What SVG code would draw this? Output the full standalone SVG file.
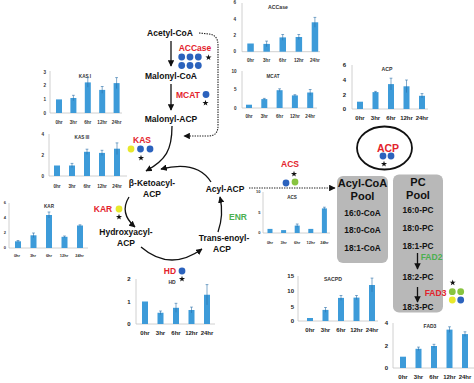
<svg xmlns="http://www.w3.org/2000/svg" width="474" height="383" viewBox="0 0 474 383">
<defs>
<style>
text{font-family:"Liberation Sans",Arial,sans-serif;font-weight:bold;text-anchor:middle}
.m{font-size:8.5px;fill:#111}
.red{font-size:8.5px;fill:#e3232c}
.grn{font-size:8.5px;fill:#4caf50}
.bx{font-size:11px;fill:#111}
.it{font-size:8.3px;fill:#111}
.box{fill:#b8b8b8}
.bar{fill:#3d9bd9}
.ax{stroke:#c4c4c4;stroke-width:0.8;fill:none}
.err{stroke:#2a6fa8;stroke-width:0.6;fill:none}
.s{font-size:4.6px;fill:#333}
.l{font-size:6px;fill:#222}
.ya{text-anchor:end}
.arr{stroke:#111;stroke-width:1.3;fill:none}
.dot{stroke:#222;stroke-width:1.1;fill:none;stroke-dasharray:1.4 1.1}
.cb{fill:#2b62bd}
.cy{fill:#e8e82c}
.cg{fill:#88c43f}
</style>
<marker id="ah" viewBox="0 0 10 10" refX="9" refY="5" markerWidth="6.5" markerHeight="6.5" markerUnits="userSpaceOnUse" orient="auto"><path d="M0,0 L10,5 L0,10 z" fill="#111"/></marker>
<path id="star" d="M0,-3.2 L0.73,-1.01 L3.04,-0.99 L1.19,0.39 L1.88,2.59 L0,1.25 L-1.88,2.59 L-1.19,0.39 L-3.04,-0.99 L-0.73,-1.01 Z" fill="#111"/>
</defs>
<rect width="474" height="383" fill="#fff"/>

<!-- pools -->
<g id="acyl-coa-pool">
<rect class="box" x="337" y="176" width="51" height="87" rx="6"/>
<text class="bx" x="362.5" y="187">Acyl-CoA</text>
<text class="bx" x="362.5" y="200">Pool</text>
<text class="it" x="362.5" y="216">16:0-CoA</text>
<text class="it" x="362.5" y="233">18:0-CoA</text>
<text class="it" x="362.5" y="251">18:1-CoA</text>
</g>
<g id="pc-pool">
<rect class="box" x="393" y="174.5" width="50" height="138" rx="6"/>
<text class="bx" x="418" y="186">PC</text>
<text class="bx" x="418" y="199">Pool</text>
<text class="it" x="418" y="213">16:0-PC</text>
<text class="it" x="418" y="231">18:0-PC</text>
<text class="it" x="418" y="249">18:1-PC</text>
<text class="it" x="418" y="280.3">18:2-PC</text>
<text class="it" x="418" y="309.7">18:3-PC</text>
</g>

<!-- connectors -->
<g id="connectors">
<path class="arr" d="M171,41 L171,66" marker-end="url(#ah)"/>
<path class="arr" d="M171,84 L171,110" marker-end="url(#ah)"/>
<path class="dot" d="M199,33 L209,34 Q218,35 218,45 L218,126 Q218,136 208,136 L184,136" marker-end="url(#ah)"/>
<path class="arr" d="M172,126 C172,150 166,160 146,171" marker-end="url(#ah)"/>
<path class="arr" d="M211,182 Q197,160 161,169" marker-end="url(#ah)"/>
<path class="arr" d="M129,197 Q119,213 135,227" marker-end="url(#ah)"/>
<path class="arr" d="M141,247 Q170,272 202,249" marker-end="url(#ah)"/>
<path class="arr" d="M218,232 Q224,215 220,197" marker-end="url(#ah)"/>
<path class="dot" d="M249,188 L335,188" marker-end="url(#ah)"/>
<path class="arr" d="M417.5,253 L417.5,269" marker-end="url(#ah)"/>
<path class="arr" d="M417.5,287 L417.5,302" marker-end="url(#ah)"/>
</g>

<!-- pathway nodes -->
<g id="acetyl-coa"><text class="m" x="170" y="36">Acetyl-CoA</text></g>
<g id="malonyl-coa"><text class="m" x="171" y="79">Malonyl-CoA</text></g>
<g id="malonyl-acp"><text class="m" x="171" y="122">Malonyl-ACP</text></g>
<g id="ketoacyl-acp"><text class="m" x="152" y="186">β-Ketoacyl-</text><text class="m" x="152" y="197">ACP</text></g>
<g id="hydroxyacyl-acp"><text class="m" x="126" y="235">Hydroxyacyl-</text><text class="m" x="126" y="246">ACP</text></g>
<g id="trans-enoyl-acp"><text class="m" x="224" y="241">Trans-enoyl-</text><text class="m" x="222" y="252">ACP</text></g>
<g id="acyl-acp"><text class="m" x="225" y="192">Acyl-ACP</text></g>

<!-- enzymes -->
<g id="accase">
<text class="red" x="195" y="51">ACCase</text>
<circle class="cb" cx="181.7" cy="57" r="3.4"/><circle class="cb" cx="190" cy="57" r="3.4"/><circle class="cb" cx="198.3" cy="57" r="3.4"/>
<circle class="cb" cx="181.7" cy="65.5" r="3.4"/><circle class="cb" cx="190" cy="65.5" r="3.4"/><circle class="cb" cx="198.3" cy="65.5" r="3.4"/>
<use href="#star" x="208.5" y="57.5"/>
</g>
<g id="mcat">
<text class="red" x="188" y="97.5">MCAT</text>
<circle class="cb" cx="206" cy="94.5" r="3.4"/>
<use href="#star" x="205.5" y="103"/>
</g>
<g id="kas">
<text class="red" x="142" y="143">KAS</text>
<circle class="cy" cx="131" cy="149" r="3.4"/><circle class="cb" cx="140.5" cy="149" r="3.4"/><circle class="cb" cx="150" cy="149" r="3.4"/>
<use href="#star" x="141" y="158"/>
</g>
<g id="kar">
<text class="red" x="103" y="212">KAR</text>
<circle class="cy" cx="119" cy="209" r="3.4"/>
<use href="#star" x="119" y="217"/>
</g>
<g id="hd">
<text class="red" x="170" y="274">HD</text>
<circle class="cb" cx="182" cy="271" r="3.4"/>
<use href="#star" x="182" y="279"/>
</g>
<g id="enr"><text class="grn" x="238" y="220">ENR</text></g>
<g id="acs">
<text class="red" x="290" y="167">ACS</text>
<use href="#star" x="294" y="174"/>
<circle class="cb" cx="286" cy="183" r="3.4"/><circle class="cg" cx="295" cy="182" r="3.4"/>
</g>
<g id="acp">
<ellipse cx="384.5" cy="148" rx="27.5" ry="21.5" fill="none" stroke="#111" stroke-width="1.8"/>
<text class="red" x="388" y="151.5" style="font-size:10.5px">ACP</text>
<circle class="cb" cx="383" cy="156" r="3.4"/><circle class="cb" cx="391" cy="156" r="3.4"/>
<use href="#star" x="384" y="164"/>
</g>
<g id="fad2"><text class="grn" x="431.5" y="260.3">FAD2</text></g>
<g id="fad3">
<text class="red" x="435.5" y="295.7">FAD3</text>
<use href="#star" x="452.7" y="282.7"/>
<circle class="cg" cx="452.3" cy="291.7" r="3.4"/><circle class="cg" cx="460.7" cy="291.7" r="3.4"/>
<circle class="cy" cx="452.3" cy="300" r="3.4"/><circle class="cb" cx="460.7" cy="300" r="3.4"/>
</g>

<!-- charts -->
<g id="chart-kas1">
<path class="ax" d="M50,71 L50,113 L122,113"/>
<text class="s ya" x="46" y="73.6">3</text><text class="s ya" x="46" y="87.2">2</text><text class="s ya" x="46" y="100.8">1</text><text class="s ya" x="46" y="114.6">0</text>
<text class="s" x="85" y="77.5">KAS I</text>
<rect class="bar" x="56" y="99.4" width="6" height="13.6"/>
<rect class="bar" x="70.4" y="98" width="6" height="15"/>
<rect class="bar" x="84.8" y="82.4" width="6" height="30.6"/>
<rect class="bar" x="99.2" y="89.9" width="6" height="23.1"/>
<rect class="bar" x="113.6" y="83.1" width="6" height="29.9"/>
<path class="err" d="M73.4,95.3V100.7M72,95.3h2.8M87.8,77.6V87.2M86.4,77.6h2.8M102.2,86.5V93.3M100.8,86.5h2.8M116.6,77.6V88.6M115.2,77.6h2.8"/>
<text class="s" x="59" y="124">0hr</text><text class="s" x="73.4" y="124">3hr</text><text class="s" x="87.8" y="124">6hr</text><text class="s" x="102.2" y="124">12hr</text><text class="s" x="116.6" y="124">24hr</text>
</g>

<g id="chart-accase">
<path class="ax" d="M242,3 L242,51.7 L320,51.7"/>
<text class="s ya" x="236" y="4.3">6</text><text class="s ya" x="236" y="20.6">4</text><text class="s ya" x="236" y="37">2</text><text class="s ya" x="236" y="53.3">0</text>
<text class="s" x="278" y="9" style="font-size:5.2px">ACCase</text>
<rect class="bar" x="247.3" y="43.5" width="6.5" height="8.2"/>
<rect class="bar" x="263.4" y="43.9" width="6.5" height="7.8"/>
<rect class="bar" x="279.5" y="37.4" width="6.5" height="14.3"/>
<rect class="bar" x="295.6" y="37" width="6.5" height="14.7"/>
<rect class="bar" x="311.7" y="22.3" width="6.5" height="29.4"/>
<path class="err" d="M266.6,41.1V46.7M265.2,41.1h2.8M282.7,34.5V40.3M281.3,34.5h2.8M298.8,34.5V39.5M297.4,34.5h2.8M314.9,17.4V27.2M313.5,17.4h2.8"/>
<text class="s" x="250.5" y="61.5">0hr</text><text class="s" x="266.6" y="61.5">3hr</text><text class="s" x="282.7" y="61.5">6hr</text><text class="s" x="298.8" y="61.5">12hr</text><text class="s" x="314.9" y="61.5">24hr</text>
</g>

<g id="chart-mcat">
<path class="ax" d="M242,71 L242,108 L317,108"/>
<text class="s ya" x="236.5" y="72.6">10</text><text class="s ya" x="236.5" y="91.1">5</text><text class="s ya" x="236.5" y="109.6">0</text>
<text class="s" x="273" y="77.5">MCAT</text>
<rect class="bar" x="246" y="104.7" width="6" height="3.3"/>
<rect class="bar" x="261.3" y="99.1" width="6" height="8.9"/>
<rect class="bar" x="276.6" y="90.2" width="6" height="17.8"/>
<rect class="bar" x="291.9" y="95.4" width="6" height="12.6"/>
<rect class="bar" x="307.2" y="92.5" width="6" height="15.5"/>
<path class="err" d="M264.3,98.4V99.8M262.9,98.4h2.8M279.6,88.8V91.6M278.2,88.8h2.8M294.9,94.7V96.1M293.5,94.7h2.8M310.2,89.5V95.5M308.8,89.5h2.8"/>
<text class="s" x="249" y="118">0hr</text><text class="s" x="264.3" y="118">3hr</text><text class="s" x="279.6" y="118">6hr</text><text class="s" x="294.9" y="118">12hr</text><text class="s" x="310.2" y="118">24hr</text>
</g>

<g id="chart-acp">
<path class="ax" d="M352,65 L352,109 L428,109"/>
<text class="l ya" x="346" y="67.1">6</text><text class="l ya" x="346" y="81.8">4</text><text class="l ya" x="346" y="96.5">2</text><text class="l ya" x="346" y="111.1">0</text>
<text class="s" x="387" y="70.5" style="font-size:5.2px">ACP</text>
<rect class="bar" x="357" y="101.7" width="6" height="7.3"/>
<rect class="bar" x="372.5" y="92.1" width="6" height="16.9"/>
<rect class="bar" x="388" y="84.1" width="6" height="24.9"/>
<rect class="bar" x="403.5" y="86.3" width="6" height="22.7"/>
<rect class="bar" x="419" y="95.8" width="6" height="13.2"/>
<path class="err" d="M375.5,91.4V92.8M374.1,91.4h2.8M391,78.2V90M389.6,78.2h2.8M406.5,80V92.6M405.1,80h2.8M422,93.6V98M420.6,93.6h2.8"/>
<text class="l" x="360" y="120.3">0hr</text><text class="l" x="375.5" y="120.3">3hr</text><text class="l" x="391" y="120.3">6hr</text><text class="l" x="406.5" y="120.3">12hr</text><text class="l" x="422" y="120.3">24hr</text>
</g>

<g id="chart-kas3">
<path class="ax" d="M49,134 L49,176 L127,176"/>
<text class="s ya" x="44" y="135.6">4</text><text class="s ya" x="44" y="156.6">2</text><text class="s ya" x="44" y="177.6">0</text>
<text class="s" x="82" y="138.5">KAS III</text>
<rect class="bar" x="54" y="165.5" width="6" height="10.5"/>
<rect class="bar" x="69" y="165.5" width="6" height="10.5"/>
<rect class="bar" x="84" y="151.8" width="6" height="24.2"/>
<rect class="bar" x="99" y="152.9" width="6" height="23.1"/>
<rect class="bar" x="114" y="148.7" width="6" height="27.3"/>
<path class="err" d="M72,163.4V167.6M70.6,163.4h2.8M87,149.2V154.4M85.6,149.2h2.8M102,150.3V155.5M100.6,150.3h2.8M117,142.9V154.5M115.6,142.9h2.8"/>
<text class="s" x="57" y="187.5">0hr</text><text class="s" x="72" y="187.5">3hr</text><text class="s" x="87" y="187.5">6hr</text><text class="s" x="102" y="187.5">12hr</text><text class="s" x="117" y="187.5">24hr</text>
</g>

<g id="chart-kar">
<path class="ax" d="M9,203 L9,248 L88,248"/>
<text class="s ya" x="6" y="204.4" style="font-size:4px">6</text><text class="s ya" x="6" y="219.4" style="font-size:4px">4</text><text class="s ya" x="6" y="234.4" style="font-size:4px">2</text><text class="s ya" x="6" y="249.4" style="font-size:4px">0</text>
<text class="s" x="49" y="207.5">KAR</text>
<rect class="bar" x="15" y="241.3" width="6" height="6.7"/>
<rect class="bar" x="30.5" y="235.3" width="6" height="12.7"/>
<rect class="bar" x="46" y="215" width="6" height="33"/>
<rect class="bar" x="61.5" y="236.8" width="6" height="11.2"/>
<rect class="bar" x="77" y="225.5" width="6" height="22.5"/>
<path class="err" d="M18,240.5V242.1M16.6,240.5h2.8M33.5,233V237.6M32.1,233h2.8M49,212V218M47.6,212h2.8M64.5,236V237.6M63.1,236h2.8M80,224.8V226.2M78.6,224.8h2.8"/>
<text class="s" x="17" y="256.5" style="font-size:4px">0hr</text><text class="s" x="33" y="256.5" style="font-size:4px">3hr</text><text class="s" x="49" y="256.5" style="font-size:4px">6hr</text><text class="s" x="64" y="256.5" style="font-size:4px">12hr</text><text class="s" x="79.5" y="256.5" style="font-size:4px">24hr</text>
</g>

<g id="chart-acs">
<path class="ax" d="M263,192 L263,233 L330,233"/>
<text class="s ya" x="260.5" y="193.4" style="font-size:4px">10</text><text class="s ya" x="260.5" y="214.4" style="font-size:4px">5</text><text class="s ya" x="260.5" y="234.4" style="font-size:4px">0</text>
<text class="s" x="292" y="198.5">ACS</text>
<rect class="bar" x="267.5" y="228.9" width="5" height="4.1"/>
<rect class="bar" x="281.1" y="230.1" width="5" height="2.9"/>
<rect class="bar" x="294.7" y="225.6" width="5" height="7.4"/>
<rect class="bar" x="308.3" y="228.9" width="5" height="4.1"/>
<rect class="bar" x="321.9" y="208.4" width="5" height="24.6"/>
<path class="err" d="M297.2,224V227.2M295.8,224h2.8M324.4,207.2V209.6M323,207.2h2.8"/>
<text class="s" x="270" y="243.5" style="font-size:4px">0hr</text><text class="s" x="283.6" y="243.5" style="font-size:4px">3hr</text><text class="s" x="297.2" y="243.5" style="font-size:4px">6hr</text><text class="s" x="310.8" y="243.5" style="font-size:4px">12hr</text><text class="s" x="324.4" y="243.5" style="font-size:4px">24hr</text>
</g>

<g id="chart-sacpd">
<path class="ax" d="M298,276 L298,321 L378,321"/>
<text class="l ya" x="294" y="278.1">15</text><text class="l ya" x="294" y="293.1">10</text><text class="l ya" x="294" y="309.1">5</text><text class="l ya" x="294" y="323.1">0</text>
<text class="s" x="333" y="280.5" style="font-size:5.2px">SACPD</text>
<rect class="bar" x="307" y="318" width="6" height="3"/>
<rect class="bar" x="322.5" y="309.9" width="6" height="11.1"/>
<rect class="bar" x="338" y="297.9" width="6" height="23.1"/>
<rect class="bar" x="353.5" y="297.6" width="6" height="23.4"/>
<rect class="bar" x="369" y="285" width="6" height="36"/>
<path class="err" d="M325.5,307.5V312.3M324.1,307.5h2.8M341,295.5V300.3M339.6,295.5h2.8M356.5,295.5V299.7M355.1,295.5h2.8M372,278.1V291.9M370.6,278.1h2.8"/>
<text class="l" x="310" y="332.3">0hr</text><text class="l" x="325.5" y="332.3">3hr</text><text class="l" x="341" y="332.3">6hr</text><text class="l" x="356.5" y="332.3">12hr</text><text class="l" x="372" y="332.3">24hr</text>
</g>

<g id="chart-hd">
<path class="ax" d="M136,279 L136,324 L215,324"/>
<text class="l ya" x="130.5" y="281.1">2</text><text class="l ya" x="130.5" y="303.6">1</text><text class="l ya" x="130.5" y="326.1">0</text>
<text class="s" x="172" y="284" style="font-size:5px">HD</text>
<rect class="bar" x="142" y="301.5" width="6" height="22.5"/>
<rect class="bar" x="157.5" y="312.75" width="6" height="11.25"/>
<rect class="bar" x="173" y="307.8" width="6" height="16.2"/>
<rect class="bar" x="188.5" y="310" width="6" height="14"/>
<rect class="bar" x="204" y="294.75" width="6" height="29.25"/>
<path class="err" d="M160.5,311V314.5M159.1,311h2.8M176,303.3V312.3M174.6,303.3h2.8M191.5,307.1V312.9M190.1,307.1h2.8M207,284.6V304.9M205.6,284.6h2.8"/>
<text class="l" x="145" y="335.3">0hr</text><text class="l" x="160.5" y="335.3">3hr</text><text class="l" x="176" y="335.3">6hr</text><text class="l" x="191.5" y="335.3">12hr</text><text class="l" x="207" y="335.3">24hr</text>
</g>

<g id="chart-fad3">
<path class="ax" d="M393,323 L393,368 L474,368"/>
<text class="l ya" x="388" y="325.1">4</text><text class="l ya" x="388" y="347.7">2</text><text class="l ya" x="388" y="370.1">0</text>
<text class="s" x="430" y="328" style="font-size:5px">FAD3</text>
<rect class="bar" x="400" y="356.7" width="6" height="11.3"/>
<rect class="bar" x="415.5" y="348.8" width="6" height="19.2"/>
<rect class="bar" x="431" y="346" width="6" height="22"/>
<rect class="bar" x="446.5" y="329.6" width="6" height="38.4"/>
<rect class="bar" x="462" y="334.1" width="6" height="33.9"/>
<path class="err" d="M418.5,347.1V350.5M417.1,347.1h2.8M434,344.3V347.7M432.6,344.3h2.8M449.5,326.8V332.4M448.1,326.8h2.8M465,331.8V336.4M463.6,331.8h2.8"/>
<text class="l" x="403" y="379.3">0hr</text><text class="l" x="418.5" y="379.3">3hr</text><text class="l" x="434" y="379.3">6hr</text><text class="l" x="449.5" y="379.3">12hr</text><text class="l" x="465" y="379.3">24hr</text>
</g>
</svg>
